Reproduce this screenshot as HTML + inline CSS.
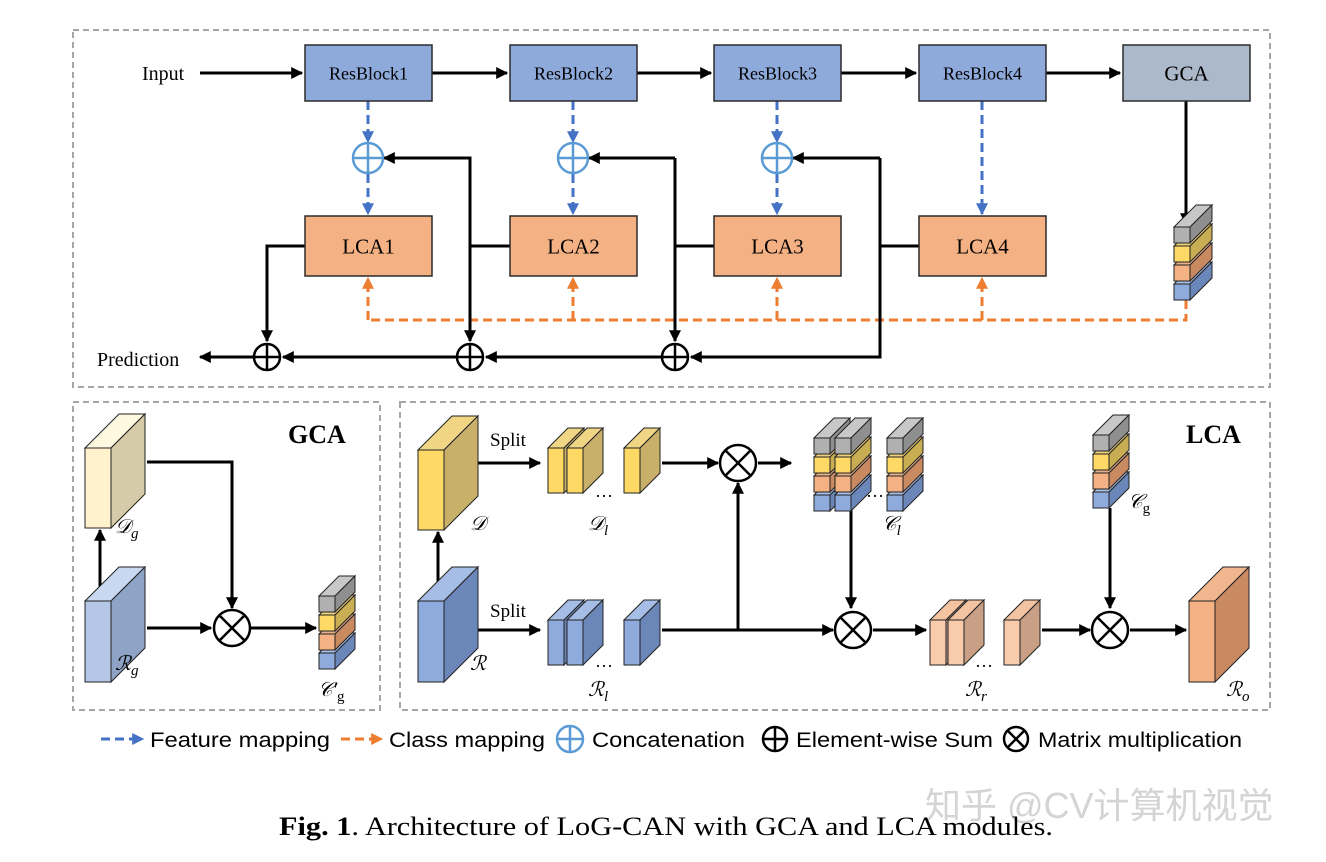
<!DOCTYPE html>
<html><head><meta charset="utf-8">
<style>
html,body{margin:0;padding:0;background:#fff;}
svg{display:block;}
.t{font-family:"Liberation Serif",serif;fill:#000;}
.s{font-family:"Liberation Sans",sans-serif;fill:#000;}
</style></head>
<body>
<svg id="svg" width="1326" height="862" viewBox="0 0 1326 862" xmlns="http://www.w3.org/2000/svg">
<defs>
<marker id="ak" viewBox="0 0 10 10" refX="9" refY="5" markerWidth="4" markerHeight="4" orient="auto" markerUnits="strokeWidth"><path d="M0,0 L10,5 L0,10 z" fill="#000"/></marker>
<marker id="ab" viewBox="0 0 10 10" refX="9" refY="5" markerWidth="4" markerHeight="4" orient="auto" markerUnits="strokeWidth"><path d="M0,0 L10,5 L0,10 z" fill="#4472c4"/></marker>
<marker id="ao" viewBox="0 0 10 10" refX="9" refY="5" markerWidth="4" markerHeight="4" orient="auto" markerUnits="strokeWidth"><path d="M0,0 L10,5 L0,10 z" fill="#ed7d31"/></marker>
</defs>
<g fill="none" stroke="#a6a6a6" stroke-width="2" stroke-dasharray="6,4">
<rect x="73" y="30" width="1197" height="357"/>
<rect x="73" y="402" width="307" height="308"/>
<rect x="400" y="402" width="870" height="308"/>
</g>
<text x="925" y="818" font-size="36" fill="#d4d4d4" font-family="'Liberation Sans','Noto Sans CJK SC',sans-serif">知乎 @CV计算机视觉</text>
<g id="g"></g>
<text class="t" x="142" y="80" font-size="20">Input</text>
<text class="t" x="97" y="366" font-size="20">Prediction</text>
<text class="t" x="288" y="443" font-size="26" font-weight="bold">GCA</text>
<text class="t" x="1186" y="443" font-size="26" font-weight="bold">LCA</text>
<text class="t" x="490" y="446" font-size="19">Split</text>
<text class="t" x="490" y="617" font-size="19">Split</text>
<g class="t" font-style="italic" font-size="20">
<text x="115" y="533">𝒟<tspan font-size="15" dy="5">g</tspan></text>
<text x="115" y="670">ℛ<tspan font-size="15" dy="5">g</tspan></text>
<text x="318" y="696">𝒞′<tspan font-size="15" dy="5" font-style="normal">g</tspan></text>
<text x="470" y="530">𝒟</text>
<text x="470" y="670">ℛ</text>
<text x="588" y="530">𝒟<tspan font-size="15" dy="5">l</tspan></text>
<text x="588" y="696">ℛ<tspan font-size="15" dy="5">l</tspan></text>
<text x="882" y="530">𝒞<tspan font-size="15" dy="5">l</tspan></text>
<text x="1128" y="508">𝒞<tspan font-size="15" dy="5" font-style="normal">g</tspan></text>
<text x="965" y="696">ℛ<tspan font-size="15" dy="5">r</tspan></text>
<text x="1226" y="696">ℛ<tspan font-size="15" dy="5">o</tspan></text>
</g>
<g class="t" font-size="18"><text x="595" y="497">…</text><text x="595" y="667">…</text><text x="975" y="667">…</text><text x="866" y="497">…</text></g>
<g class="s" font-size="21">
<text x="150" y="747" textLength="180" lengthAdjust="spacingAndGlyphs">Feature mapping</text>
<text x="389" y="747" textLength="156" lengthAdjust="spacingAndGlyphs">Class mapping</text>
<text x="592" y="747" textLength="153" lengthAdjust="spacingAndGlyphs">Concatenation</text>
<text x="796" y="747" textLength="197" lengthAdjust="spacingAndGlyphs">Element-wise Sum</text>
<text x="1038" y="747" textLength="204" lengthAdjust="spacingAndGlyphs">Matrix multiplication</text>
</g>
<text class="t" x="279" y="835" font-size="26" textLength="774" lengthAdjust="spacingAndGlyphs"><tspan font-weight="bold">Fig. 1</tspan>. Architecture of LoG-CAN with GCA and LCA modules.</text>
</svg>
<script>
var G=document.getElementById('g');var NS='http://www.w3.org/2000/svg';
function el(t,a){var e=document.createElementNS(NS,t);for(var k in a)e.setAttribute(k,a[k]);G.appendChild(e);return e;}
function line(pts,col,dash,mk){var c={k:'#000',b:'#4472c4',o:'#ed7d31'}[col];var a={points:pts,fill:'none',stroke:c,'stroke-width':3};if(dash)a['stroke-dasharray']='9,5';if(mk)a['marker-end']='url(#a'+col+')';el('polyline',a);}
function box(x,y,w,h,f,txt,fs){el('rect',{x:x,y:y,width:w,height:h,fill:f,stroke:'#2b2b2b','stroke-width':1.5});var t=el('text',{x:x+w/2,y:y+h/2+fs*0.35,'text-anchor':'middle','font-size':fs,'class':'t'});t.textContent=txt;}
function cube(x,y,w,h,d,f,top,side){el('polygon',{points:[x,y,x+d,y-d,x+w+d,y-d,x+w,y].join(','),fill:top,stroke:'#222','stroke-width':1});el('polygon',{points:[x+w,y,x+w+d,y-d,x+w+d,y+h-d,x+w,y+h].join(','),fill:side,stroke:'#222','stroke-width':1});el('rect',{x:x,y:y,width:w,height:h,fill:f,stroke:'#222','stroke-width':1});}
var C={gr:['#b0b0b0','#c8c8c8','#8f8f8f'],ye:['#ffd966','#eed27a','#c9ad52'],or:['#f4b183','#e8b08a','#c98a62'],bl:['#8faadc','#a6bde6','#6b86b8']};
function stack(x,y,w,h,d,sp){['bl','or','ye','gr'].forEach(function(k,i){var yy=y+(3-i)*sp;var c=C[k];cube(x,yy,w,h,d,c[0],c[1],c[2]);});}
function circ(cx,cy,r,type,col){var c=col||'#000';el('circle',{cx:cx,cy:cy,r:r,fill:'#fff',stroke:c,'stroke-width':2.5});
 if(type=='p'){el('line',{x1:cx-r,y1:cy,x2:cx+r,y2:cy,stroke:c,'stroke-width':2.5});el('line',{x1:cx,y1:cy-r,x2:cx,y2:cy+r,stroke:c,'stroke-width':2.5});}
 else{var q=r*0.707;el('line',{x1:cx-q,y1:cy-q,x2:cx+q,y2:cy+q,stroke:c,'stroke-width':2.5});el('line',{x1:cx-q,y1:cy+q,x2:cx+q,y2:cy-q,stroke:c,'stroke-width':2.5});}}
line('200,73 302,73','k',0,1);line('432,73 507,73','k',0,1);line('637,73 711,73','k',0,1);line('841,73 916,73','k',0,1);line('1046,73 1120,73','k',0,1);
line('1186,101 1186,224','k',0,1);
var xs=[368,573,777];
xs.forEach(function(x){line(x+',101 '+x+',142','b',1,1);line(x+',174 '+x+',214','b',1,1);});
line('982,101 982,214','b',1,1);
line('1186,300 1186,320 368,320','o',1,0);
[368,573,777,982].forEach(function(x){line(x+',320 '+x+',278','o',1,1);});
line('305,246 267,246 267,341','k',0,1);
line('510,246 470,246','k',0,0);line('470,341 470,158 384,158','k',0,1);line('470,246 470,341','k',0,1);
line('714,246 675,246','k',0,0);line('675,158 589,158','k',0,1);line('675,158 675,341','k',0,1);
line('919,246 880,246','k',0,0);line('880,158 793,158','k',0,1);line('880,158 880,357 691,357','k',0,1);
line('661,357 486,357','k',0,1);line('456,357 283,357','k',0,1);line('253,357 200,357','k',0,1);
[305,510,714,919].forEach(function(x,i){box(x,45,127,56,'#8eaadb','ResBlock'+(i+1),18);box(x,216,127,60,'#f4b183','LCA'+(i+1),21);});
box(1123,45,127,56,'#acb9ca','GCA',21);
xs.forEach(function(x){circ(x,158,15,'p','#5b9bd5');});
[267,470,675].forEach(function(x){circ(x,357,13,'p');});
stack(1174,227,16,16,22,19);
line('100,597 100,530','k',0,1);
line('147,462 232,462 232,608','k',0,1);
line('147,628 211,628','k',0,1);line('251,628 316,628','k',0,1);
cube(85,448,26,80,34,'#fff2cc','#fff8e0','#d6cba8');
cube(85,601,26,81,34,'#b4c7e7','#c9d7ef','#8ea3c6');
circ(232,628,18,'x');
stack(319,596,16,16,20,19);
line('438,601 438,532','k',0,1);
line('478,463 540,463','k',0,1);line('478,630 540,630','k',0,1);
line('662,463 718,463','k',0,1);line('758,463 791,463','k',0,1);
line('662,630 833,630','k',0,1);line('738,630 738,483','k',0,1);
line('851,505 851,608','k',0,1);
line('873,630 926,630','k',0,1);line('1042,630 1090,630','k',0,1);
line('1110,508 1110,608','k',0,1);line('1130,630 1186,630','k',0,1);
cube(418,450,26,80,34,'#ffd966','#f0d584','#c9b06a');
cube(418,601,26,81,34,'#8faadc','#a6bde6','#6b86b8');
[548,567,624].forEach(function(x){cube(x,448,16,45,20,'#ffd966','#f0d584','#c9b06a');});
[548,567,624].forEach(function(x){cube(x,620,16,45,20,'#8faadc','#a6bde6','#6b86b8');});
[930,948,1004].forEach(function(x){cube(x,620,16,45,20,'#f8cbad','#f4c4a2','#c99f85');});
cube(1189,601,26,81,34,'#f4b183','#f0b78f','#c98a62');
stack(814,438,16,16,20,19);stack(835,438,16,16,20,19);stack(887,438,16,16,20,19);
stack(1093,435,16,16,20,19);
circ(738,463,18,'x');circ(853,630,18,'x');circ(1110,630,18,'x');
line('101,739 143,739','b',1,1);line('341,739 382,739','o',1,1);
circ(570,739,13,'p','#5b9bd5');circ(775,739,12,'p');circ(1016,739,12,'x');
</script>
</body></html>
